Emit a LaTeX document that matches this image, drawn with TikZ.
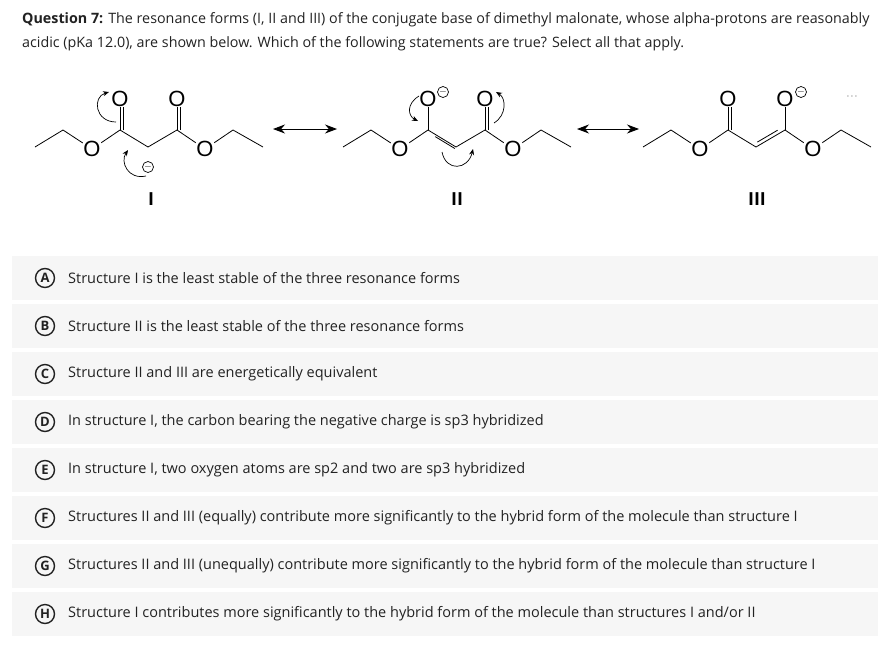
\documentclass[tikz,border=0pt]{standalone}
\usepackage{fontspec}
\setmainfont{Open Sans}
\setsansfont{Liberation Sans}
\usetikzlibrary{arrows.meta,calc}
\definecolor{boxg}{HTML}{F6F6F6}
\definecolor{txt}{HTML}{222222}
\begin{document}
\begin{tikzpicture}[x=1pt,y=-1pt,
  bond/.style={line width=0.8pt,black},
  atomO/.style={font=\sffamily\fontsize{22}{22}\selectfont,inner sep=0.5pt},
  chg/.style={circle,draw,line width=0.7pt,inner sep=0pt,minimum size=11pt,font=\sffamily\fontsize{10}{10}\selectfont},
  curly/.style={line width=0.7pt,-{Stealth[length=6pt,width=5pt]}},
  resarrow/.style={line width=0.9pt,{Stealth[length=12pt,width=9pt]}-{Stealth[length=12pt,width=9pt]}},
  letter/.style={circle,draw=txt,line width=1.4pt,minimum size=19pt,inner sep=0pt,font=\bfseries\fontsize{13}{13}\selectfont,text=txt},
  opttext/.style={anchor=west,font=\fontsize{14.5}{16}\selectfont,text=txt,inner sep=0pt},
  rlabel/.style={font=\bfseries\fontsize{18}{18}\selectfont}]
\useasboundingbox (0,0) rectangle (893,651);
\fill[white] (0,0) rectangle (893,651);
\node[anchor=west,font=\fontsize{14.3}{16}\selectfont,text=txt,inner sep=0pt] (q1) at (22,20) {\textbf{Question 7:} The resonance forms (I, II and III) of the conjugate base of dimethyl malonate, whose alpha-protons are reasonably};
\node[anchor=west,font=\fontsize{14.3}{16}\selectfont,text=txt,inner sep=0pt] (q2) at (22,44) {acidic (pKa 12.0), are shown below. Which of the following statements are true? Select all that apply.};
\newcommand\skel[2]{%
\begin{scope}[shift={(#2)}]
\coordinate (#1e1) at (0,17); \coordinate (#1e2) at (28,0);
\node[atomO] (#1Oe) at (57,19) {O};
\coordinate (#1C1) at (85,0); \node[atomO] (#1O1) at (85,-31) {O};
\coordinate (#1CH) at (113,17); \coordinate (#1C2) at (142,0);
\node[atomO] (#1O2) at (142,-31) {O};
\node[atomO] (#1Of) at (170,19) {O};
\coordinate (#1f2) at (198,0); \coordinate (#1f3) at (228,17);
\draw[bond] (#1e1)--(#1e2)--(#1Oe)--(#1C1)--(#1CH)--(#1C2)--(#1Of)--(#1f2)--(#1f3);
\draw[bond] (#1C1)--(#1O1); \draw[bond] (#1C2)--(#1O2);
\end{scope}}
% Structure I
\skel{a}{35,130}
\draw[bond] ([xshift=3.5pt]aC1) -- ([xshift=3.5pt]aO1.south);
\draw[bond] ([xshift=3.5pt]aC2) -- ([xshift=3.5pt]aO2.south);
\node[chg] (ach) at (148,167) {$-$};
\draw[curly] (116,122) .. controls (95,122) and (92,97) .. (109,92);
\draw[curly] (146,176) .. controls (128,180) and (120,162) .. (128,150);
% Structure II
\skel{b}{343,130}
\draw[bond] ([xshift=3.5pt]bC2) -- ([xshift=3.5pt]bO2.south);
\draw[bond] ($(bC1)!0.2!(bCH)+(1.6,3.2)$) -- ($(bC1)!0.9!(bCH)+(1.6,3.2)$);
\node[chg] (bch) at (443,92) {$-$};
\draw[curly] (419,96) .. controls (406,104) and (408,116) .. (418,121);
\draw[curly] (442,152) .. controls (446,172) and (468,170) .. (473,149);
\draw[curly] (494,123) .. controls (507,115) and (506,98) .. (496,92);
% Structure III
\skel{c}{643,130}
\draw[bond] ([xshift=3.5pt]cC1) -- ([xshift=3.5pt]cO1.south);
\draw[bond] ($(cCH)!0.1!(cC2)+(-1.6,-3.2)$) -- ($(cCH)!0.8!(cC2)+(-1.6,-3.2)$);
\node[chg] (cch) at (801,92) {$-$};
\node[text=gray,font=\fontsize{12}{12}\selectfont] (dots) at (852,97) {\textbf{$\cdot\!\cdot\!\cdot$}};
% resonance arrows
\coordinate (r1a) at (273,129); \coordinate (r1b) at (337,129);
\coordinate (r2a) at (577,129); \coordinate (r2b) at (639,129);
\draw[resarrow] (r1a) -- (r1b);
\draw[resarrow] (r2a) -- (r2b);
\node[rlabel] (l1) at (151,199) {I};
\node[rlabel] (l2) at (457,199) {II};
\node[rlabel] (l3) at (757,199) {III};
% options
\foreach \L/\y/\t in {A/278/{Structure I is the least stable of the three resonance forms},
 B/326/{Structure II is the least stable of the three resonance forms},
 C/374/{Structure II and III are energetically equivalent},
 D/422/{In structure I, the carbon bearing the negative charge is sp3 hybridized},
 E/470/{In structure I, two oxygen atoms are sp2 and two are sp3 hybridized},
 F/518/{Structures II and III (equally) contribute more significantly to the hybrid form of the molecule than structure I},
 G/566/{Structures II and III (unequally) contribute more significantly to the hybrid form of the molecule than structure I},
 H/614/{Structure I contributes more significantly to the hybrid form of the molecule than structures I and/or II}}{
 \fill[boxg] (12,\y-22) rectangle (878,\y+22);
 \node[letter] (c\L) at (45,\y) {\L};
 \node[opttext] (t\L) at (68,\y) {\t};
}
\end{tikzpicture}
\end{document}
